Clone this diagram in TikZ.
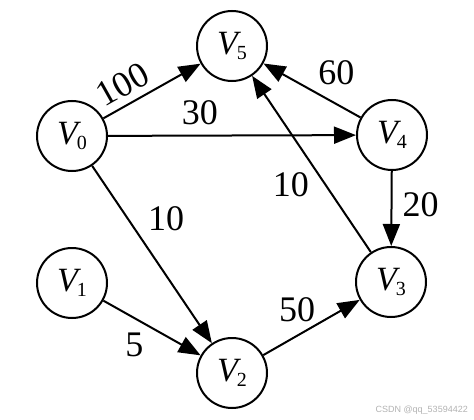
\documentclass[tikz,border=0pt]{standalone}
\usepackage{fontspec}
\setmainfont{Liberation Serif}
\newfontfamily\wmfont{Liberation Sans}
\usetikzlibrary{arrows.meta}
\newcommand\vname[1]{\fontsize{34}{38}\selectfont\itshape V\kern-1pt\raisebox{-5pt}{\upshape\fontsize{20}{22}\selectfont #1}}
\begin{document}
\begin{tikzpicture}[x=1pt,y=-1pt,
  vert/.style={circle,draw,line width=2pt,minimum size=70pt,inner sep=0pt},
  edge/.style={line width=2pt,-{Triangle[length=22pt,width=17pt]}},
  wlabel/.style={font=\fontsize{36}{40}\selectfont,inner sep=1pt}]
\useasboundingbox (0,0) rectangle (474,420);
\node[vert] (v5) at (232,46) {\vname{5}};
\node[vert] (v0) at (72,136) {\vname{0}};
\node[vert] (v4) at (392,135) {\vname{4}};
\node[vert] (v1) at (72,283) {\vname{1}};
\node[vert] (v3) at (391,282) {\vname{3}};
\node[vert] (v2) at (232,373) {\vname{2}};
\draw[edge] (v0) -- node[wlabel,pos=0.3,sloped,above=6pt] {100} (v5);
\draw[edge] (v0) -- node[wlabel,pos=0.37,above=9pt] {30} (v4);
\draw[edge] (v0) -- node[wlabel,pos=0.3,right=18pt] {10} (v2);
\draw[edge] (v4) -- node[wlabel,pos=0.25,above=17pt] {60} (v5);
\draw[edge] (v3) -- node[wlabel,pos=0.38,left=15pt] {10} (v5);
\draw[edge] (v4) -- node[wlabel,pos=0.45,right=9pt] {20} (v3);
\draw[edge] (v1) -- node[wlabel,pos=0.32,below=13pt] {5} (v2);
\draw[edge] (v2) -- node[wlabel,pos=0.35,above=12pt] {50} (v3);
\node[font=\wmfont\fontsize{9}{10}\selectfont,text=gray!60,anchor=east,inner sep=0pt] (wm) at (468,410) {CSDN @qq\_53594422};
\end{tikzpicture}
\end{document}
